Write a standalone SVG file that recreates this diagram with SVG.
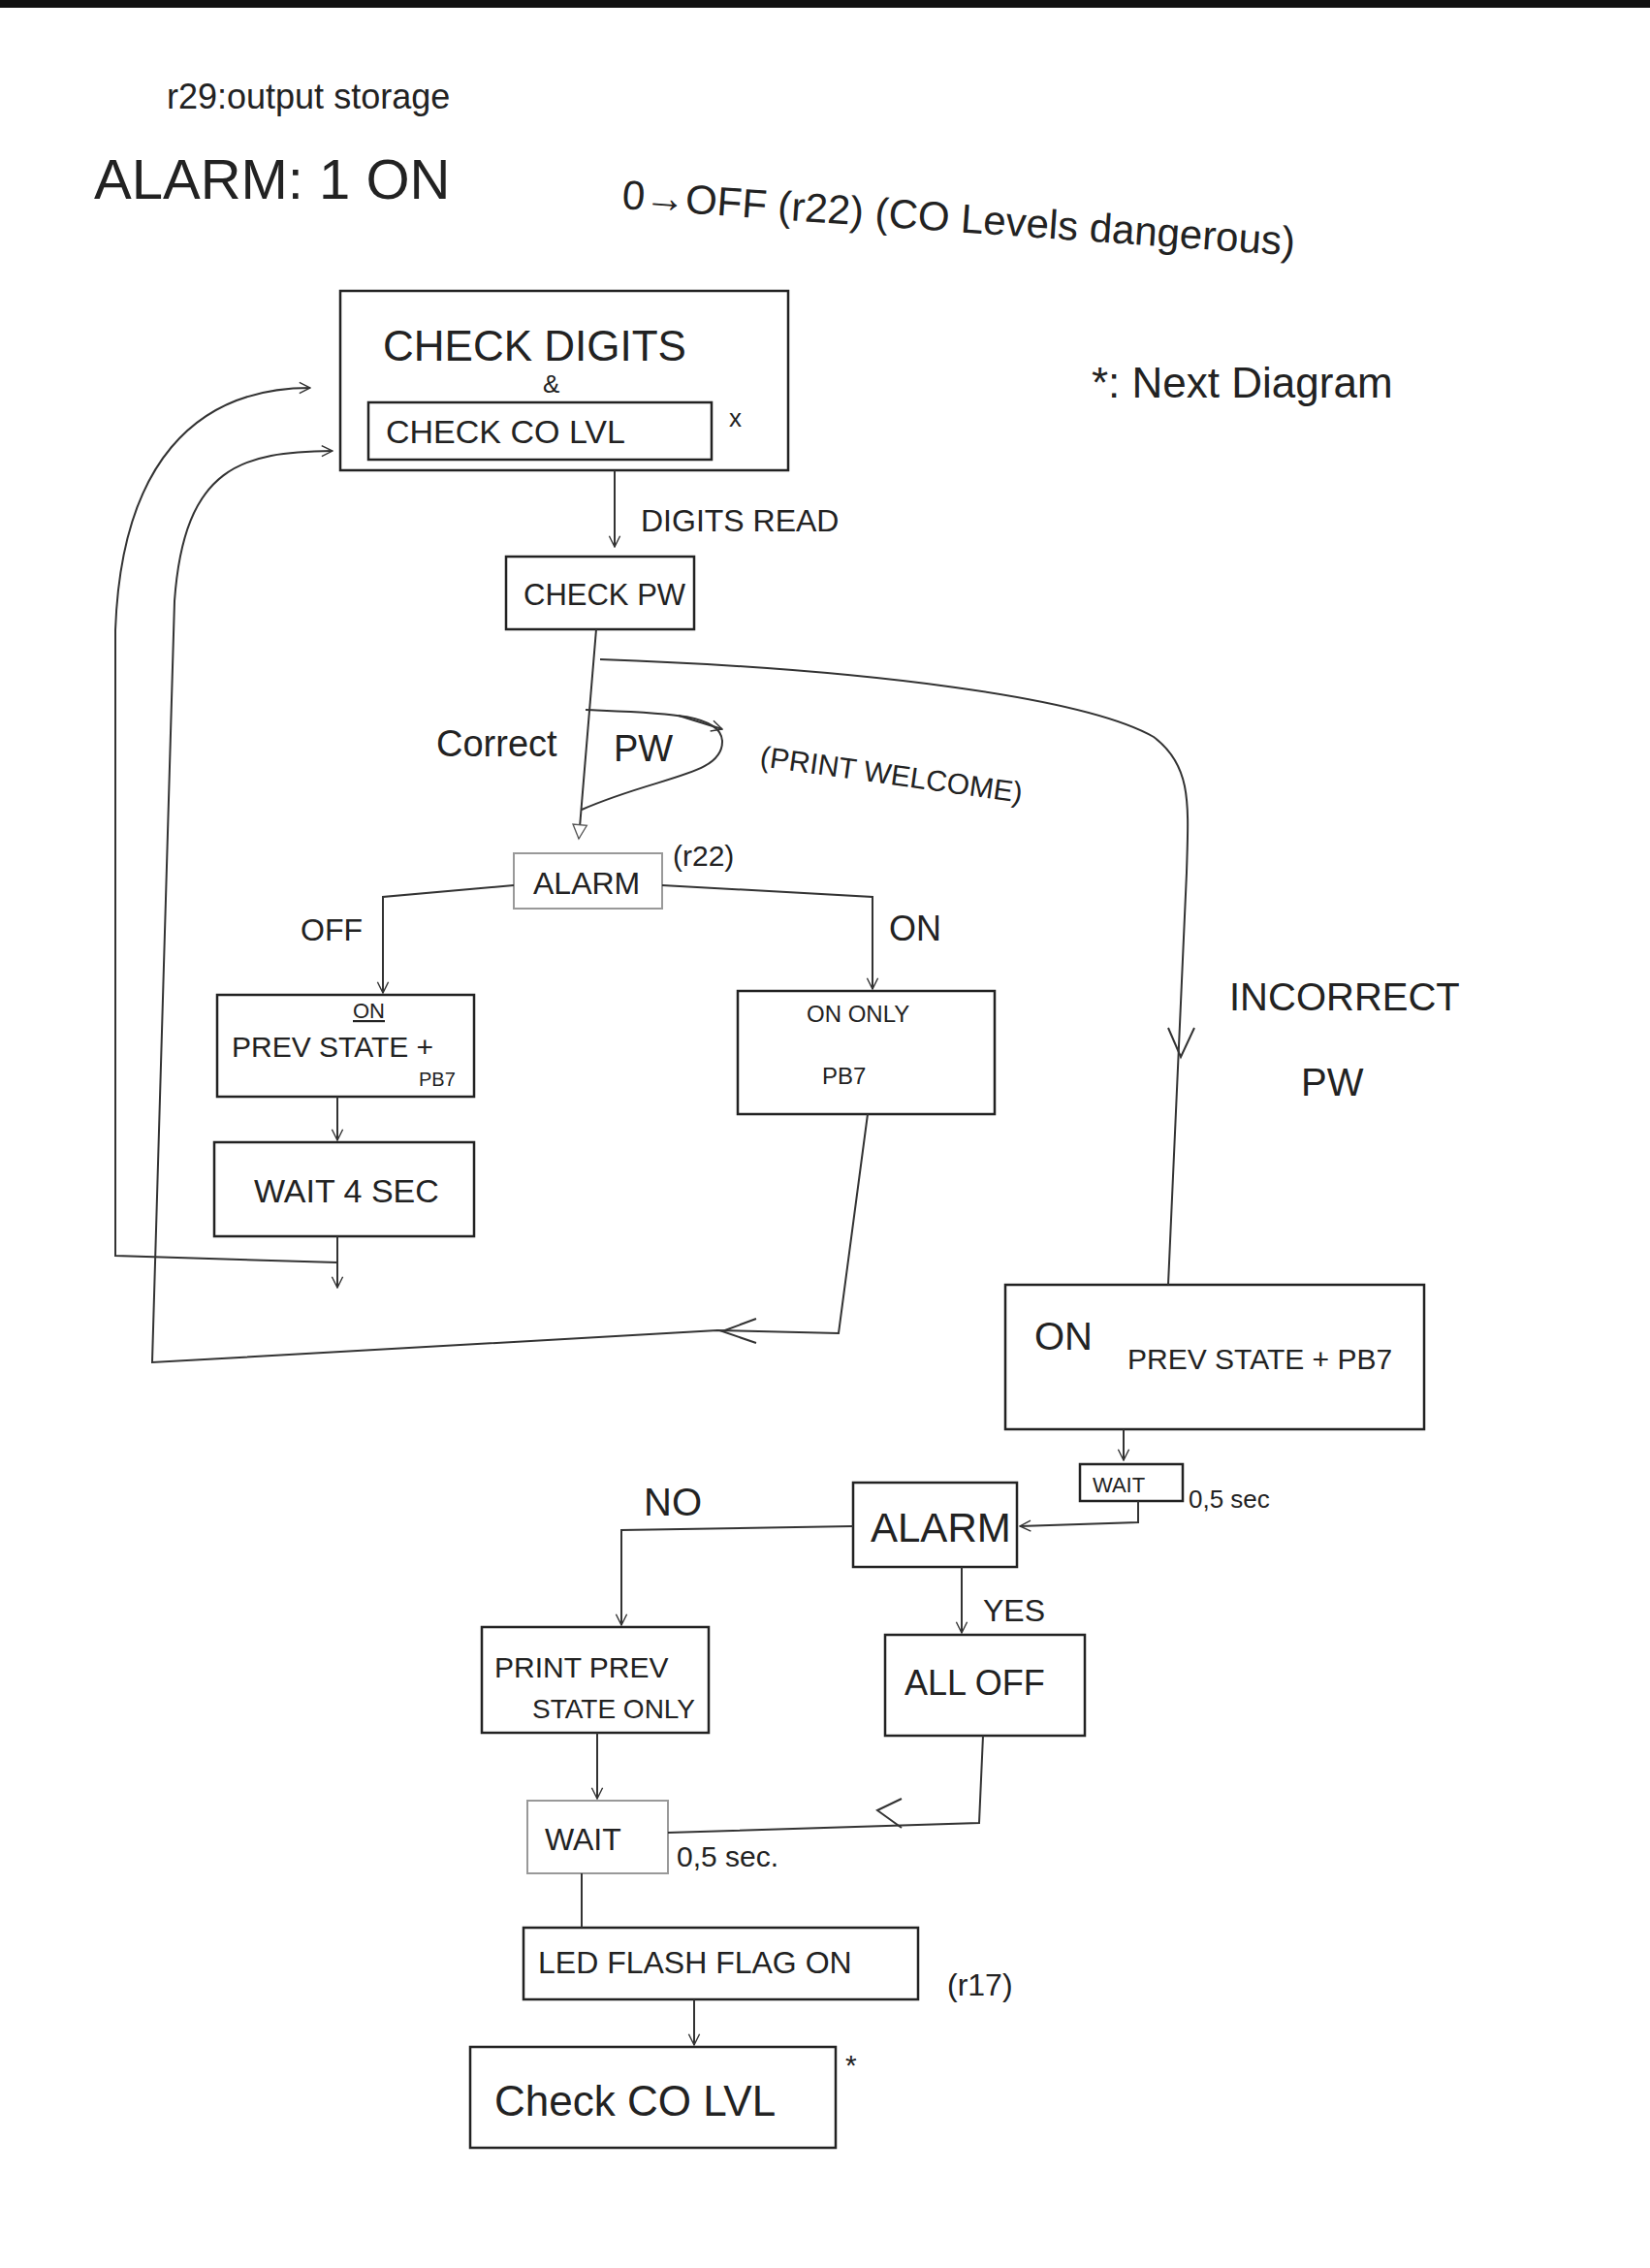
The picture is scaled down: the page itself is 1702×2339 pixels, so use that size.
<svg xmlns="http://www.w3.org/2000/svg" width="1702" height="2339" viewBox="0 0 1702 2339">
<style>
text{font-family:"Liberation Sans",sans-serif;fill:#222}
.b{fill:none;stroke:#222;stroke-width:2.5}
.c{fill:none;stroke:#333;stroke-width:2}
.g{fill:none;stroke:#999;stroke-width:2}
</style>
<defs>
<marker id="a" viewBox="0 0 20 20" refX="18" refY="10" markerWidth="14" markerHeight="14" markerUnits="userSpaceOnUse" orient="auto"><path d="M2 2 L18 10 L2 18" fill="none" stroke="#333" stroke-width="2"/></marker>
<marker id="t" viewBox="0 0 20 20" refX="18" refY="10" markerWidth="18" markerHeight="18" markerUnits="userSpaceOnUse" orient="auto"><path d="M2 2 L18 10 L2 18 Z" fill="#fff" stroke="#555" stroke-width="1.5"/></marker>
</defs>
<rect width="1702" height="2339" fill="#fff"/>
<rect x="0" y="0" width="1702" height="8" fill="#111"/>
<text x="172" y="112" font-size="36">r29:output storage</text>
<text x="97" y="205" font-size="58">ALARM:  1 ON</text>
<text x="641" y="215" font-size="42" transform="rotate(4 641 215)">0→OFF (r22) (CO  Levels  dangerous)</text>
<text x="1126" y="410" font-size="44">*: Next  Diagram</text>

<g id="n_check_digits">
<rect x="351" y="300" width="462" height="185" class="b"/>
<text x="395" y="372" font-size="44">CHECK  DIGITS</text>
<text x="560" y="405" font-size="26">&amp;</text>
<rect x="380" y="415" width="354" height="59" class="b"/>
<text x="398" y="457" font-size="34">CHECK   CO  LVL</text>
<text x="752" y="440" font-size="26">x</text>
</g>
<g id="n_check_pw">
<rect x="522" y="574" width="194" height="75" class="b"/>
<text x="540" y="624" font-size="31">CHECK PW</text>
</g>
<g id="n_alarm1">
<rect x="530" y="880" width="153" height="57" class="g"/>
<text x="550" y="922" font-size="32" fill="#555">ALARM</text>
<text x="694" y="893" font-size="30">(r22)</text>
</g>
<g id="n_prev_state">
<rect x="224" y="1026" width="265" height="105" class="b"/>
<text x="364" y="1050" font-size="22" text-decoration="underline">ON</text>
<text x="239" y="1090" font-size="30">PREV STATE +</text>
<text x="432" y="1120" font-size="20">PB7</text>
</g>
<g id="n_on_only">
<rect x="761" y="1022" width="265" height="127" class="b"/>
<text x="832" y="1054" font-size="24">ON   ONLY</text>
<text x="848" y="1118" font-size="24">PB7</text>
</g>
<g id="n_wait4">
<rect x="221" y="1178" width="268" height="97" class="b"/>
<text x="262" y="1240" font-size="34">WAIT 4 SEC</text>
</g>
<g id="n_on_prev">
<rect x="1037" y="1325" width="432" height="149" class="b"/>
<text x="1067" y="1392" font-size="40">ON</text>
<text x="1163" y="1412" font-size="30">PREV STATE + PB7</text>
</g>
<g id="n_wait05a">
<rect x="1114" y="1510" width="106" height="38" class="b"/>
<text x="1127" y="1539" font-size="22">WAIT</text>
<text x="1226" y="1555" font-size="26">0,5 sec</text>
</g>
<g id="n_alarm2">
<rect x="880" y="1529" width="169" height="87" class="b"/>
<text x="898" y="1590" font-size="42">ALARM</text>
</g>
<g id="n_print_prev">
<rect x="497" y="1678" width="234" height="109" class="b"/>
<text x="510" y="1730" font-size="30">PRINT PREV</text>
<text x="549" y="1772" font-size="28">STATE ONLY</text>
</g>
<g id="n_all_off">
<rect x="913" y="1686" width="206" height="104" class="b"/>
<text x="933" y="1748" font-size="36">ALL  OFF</text>
</g>
<g id="n_wait05b">
<rect x="544" y="1857" width="145" height="75" class="g"/>
<text x="562" y="1908" font-size="32" fill="#888">WAIT</text>
<text x="698" y="1925" font-size="30">0,5 sec.</text>
</g>
<g id="n_led">
<rect x="540" y="1988" width="407" height="74" class="b"/>
<text x="555" y="2035" font-size="32">LED  FLASH  FLAG ON</text>
<text x="977" y="2058" font-size="32">(r17)</text>
</g>
<g id="n_check_co">
<rect x="485" y="2111" width="377" height="104" class="b"/>
<text x="510" y="2182" font-size="44">Check CO LVL</text>
<text x="872" y="2140" font-size="30">*</text>
</g>

<g id="connectors">
<path d="M634 485 V564" class="c" marker-end="url(#a)"/>
<text x="661" y="548" font-size="32">DIGITS READ</text>
<path d="M615 649 L597 865" class="c" marker-end="url(#t)"/>
<path d="M604 732 C680 735 745 735 745 765 C745 800 680 800 600 835" class="c"/>
<path d="M700 738 L745 752" class="c" marker-end="url(#a)"/>
<text x="450" y="780" font-size="38">Correct</text>
<text x="633" y="785" font-size="38">PW</text>
<text x="783" y="790" font-size="30" transform="rotate(8 783 790)">(PRINT WELCOME)</text>
<path d="M619 680 C900 690 1120 720 1190 760 C1230 790 1226 830 1224 900 L1205 1325" class="c"/>
<path d="M1205 1060 L1218 1090 L1232 1060" class="c"/>
<text x="1268" y="1042" font-size="40">INCORRECT</text>
<text x="1342" y="1130" font-size="40">PW</text>
<path d="M530 913 L395 925 V1024" class="c" marker-end="url(#a)"/>
<text x="310" y="970" font-size="32" fill="#666">OFF</text>
<path d="M683 913 L900 925 V1020" class="c" marker-end="url(#a)"/>
<text x="917" y="970" font-size="36">ON</text>
<path d="M348 1131 V1176" class="c" marker-end="url(#a)"/>
<path d="M348 1275 V1328" class="c" marker-end="url(#a)"/>
<path d="M348 1302 L119 1295 L119 650 C125 480 200 400 320 400" class="c" marker-end="url(#a)"/>
<path d="M895 1149 L865 1375 L740 1372 L157 1405 L180 620 C190 480 250 466 343 465" class="c" marker-end="url(#a)"/>
<path d="M780 1360 L745 1373 L780 1385" class="c"/>
<path d="M1159 1474 V1506" class="c" marker-end="url(#a)"/>
<path d="M1174 1548 V1570 L1052 1574" class="c" marker-end="url(#a)"/>
<path d="M880 1574 L641 1578 V1676" class="c" marker-end="url(#a)"/>
<text x="664" y="1563" font-size="40">NO</text>
<path d="M992 1616 V1684" class="c" marker-end="url(#a)"/>
<text x="1014" y="1672" font-size="32">YES</text>
<path d="M616 1787 V1855" class="c" marker-end="url(#a)"/>
<path d="M1014 1790 L1010 1880 L689 1890" class="c"/>
<path d="M930 1855 L905 1867 L930 1885" class="c"/>
<path d="M600 1932 V1988" class="c"/>
<path d="M716 2062 V2109" class="c" marker-end="url(#a)"/>
</g>
</svg>
